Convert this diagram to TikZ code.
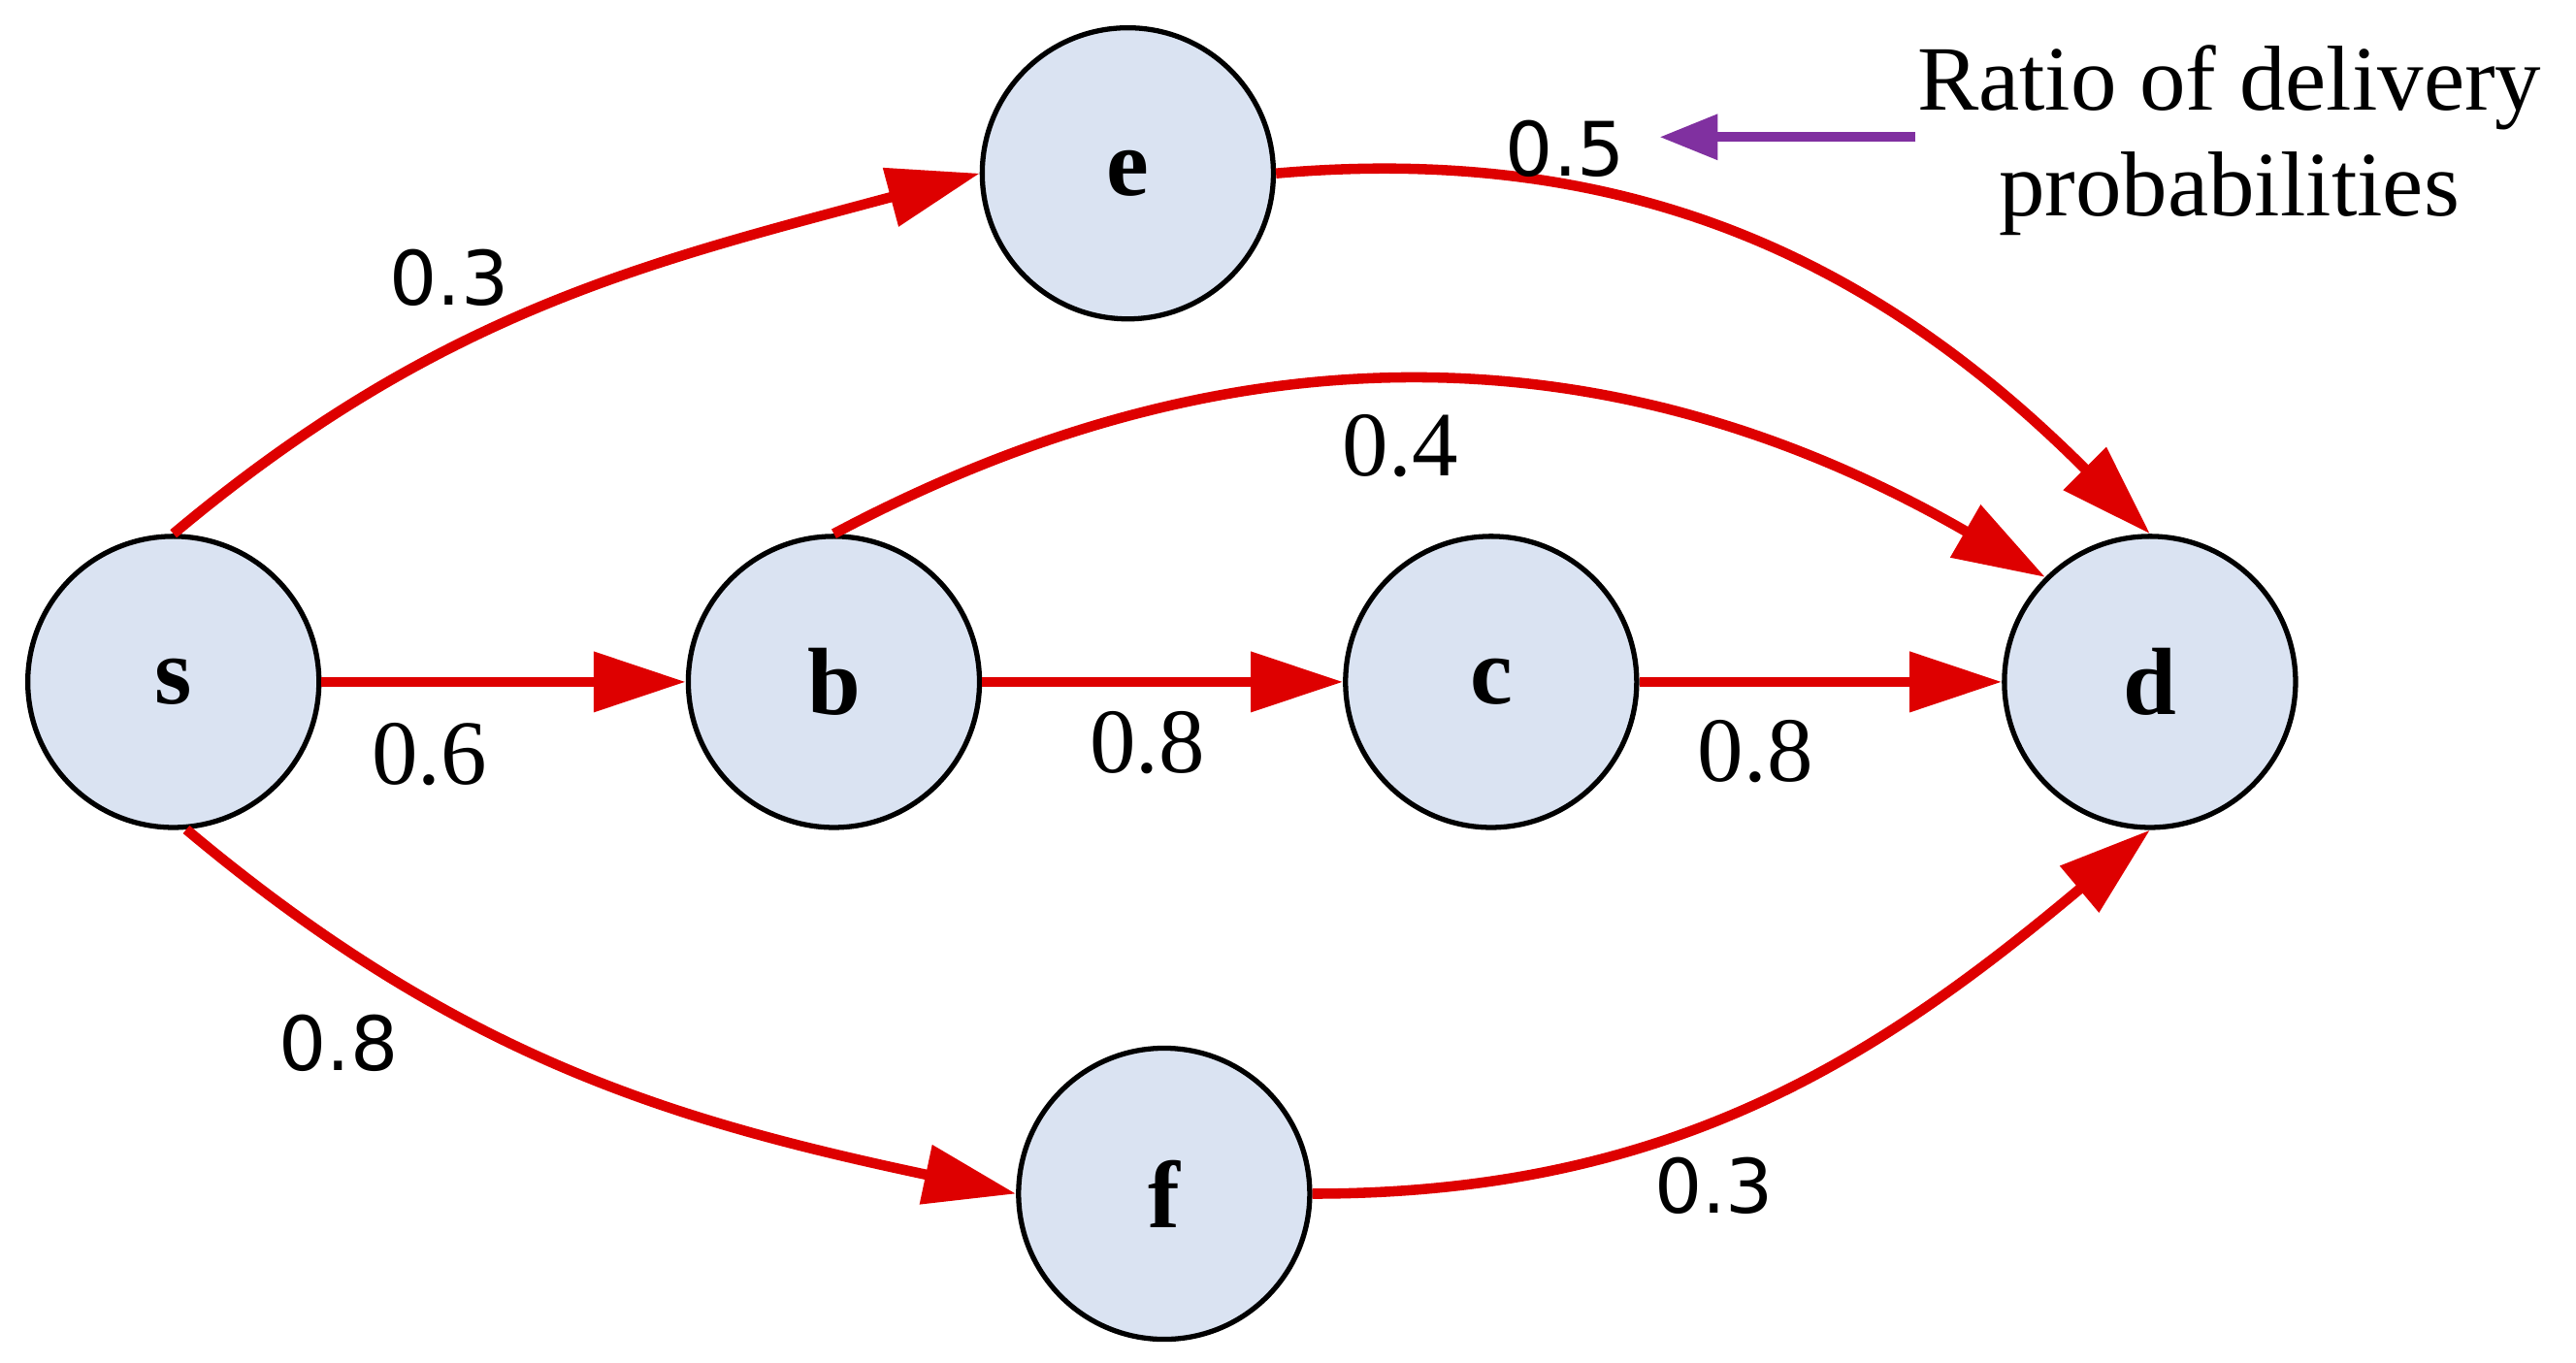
\documentclass[tikz,border=0pt]{standalone}
\usepackage{fontspec}
\setmainfont{Liberation Serif}
\newfontfamily\numsans{DejaVu Sans}
\usetikzlibrary{arrows.meta}
\definecolor{nodefill}{RGB}{218,227,242}
\definecolor{edgered}{RGB}{222,0,0}
\definecolor{purp}{RGB}{128,48,160}
\begin{document}
\begin{tikzpicture}[x=0.01702cm,y=0.01702cm,
  vert/.style={circle,draw=black,line width=1.5pt,fill=nodefill,minimum size=3cm,inner sep=0pt,font=\fontsize{28}{32}\selectfont\bfseries},
  edge/.style={draw=edgered,line width=3pt,-{Triangle[length=0.95cm,width=0.6cm]}},
  lab/.style={font=\fontsize{27}{31}\selectfont},
  slab/.style={font=\fontsize{22}{28}\numsans}]
\useasboundingbox (0,0) rectangle (1560,-825);
\node[vert] (s) at (105,-413) {s};
\node[vert] (b) at (505,-413) {b};
\node[vert] (c) at (903,-413) {c};
\node[vert] (d) at (1302,-413) {d};
\node[vert] (e) at (683,-105) {e};
\node[vert] (f) at (705,-723) {f};
\draw[edge] (s.90) to[out=40,in=195] (e.180);
\draw[edge] (e.0) to[out=5,in=135] (d.90);
\draw[edge] (b.90) to[out=28,in=150] (d.135);
\draw[edge] (s.0) -- (b.180);
\draw[edge] (b.0) -- (c.180);
\draw[edge] (c.0) -- (d.180);
\draw[edge] (s.-85) to[out=-40,in=168] (f.180);
\draw[edge] (f.0) to[out=0,in=-140] (d.-90);
\node[slab] (l1) at (272,-168) {0.3};
\node[slab] (l2) at (948,-90) {0.5};
\node[lab] (l3) at (848,-270) {0.4};
\node[lab] (l4) at (260,-457) {0.6};
\node[lab] (l5) at (695,-450) {0.8};
\node[lab] (l6) at (1063,-455) {0.8};
\node[slab] (l7) at (205,-632) {0.8};
\node[slab] (l8) at (1038,-718) {0.3};
\node[lab,align=center] (t) at (1350,-85) {Ratio of delivery\\probabilities};
\coordinate (pa) at (1160,-83);
\coordinate (pb) at (1005,-83);
\draw[draw=purp,line width=2.8pt,-{Triangle[length=0.6cm,width=0.45cm]}] (pa) -- (pb);
\end{tikzpicture}
\end{document}
